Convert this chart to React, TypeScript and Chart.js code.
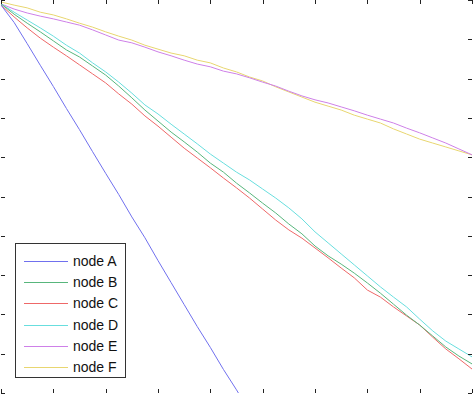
import React, { useEffect, useRef } from "react";
import { Chart, registerables } from "chart.js";

Chart.register(...registerables);

const xValues = [
  0, 0.25, 0.5, 0.75, 1, 1.25, 1.5, 1.75, 2, 2.25, 2.5, 2.75, 3, 3.25, 3.5, 3.75,
  4, 4.25, 4.5, 4.75, 5, 5.25, 5.5, 5.75, 6, 6.25, 6.5, 6.75, 7, 7.25, 7.5, 7.75,
  8, 8.25, 8.5, 8.75, 9,
];

const nodeA = [
  -0.13, -0.57, -1.11, -1.66, -2.2, -2.76, -3.3, -3.86, -4.41, -4.95, -5.52, -6.05,
  -6.63, -7.19, -7.75, -8.31, -8.84, -9.4, -9.92, -10.47,
];
const nodeB = [
  -0.1, -0.36, -0.59, -0.81, -1.04, -1.27, -1.45, -1.68, -1.91, -2.19, -2.49, -2.8,
  -3.08, -3.36, -3.61, -3.87, -4.15, -4.38, -4.66, -4.91, -5.17, -5.42, -5.7, -5.95,
  -6.26, -6.51, -6.72, -6.95, -7.2, -7.46, -7.74, -8.02, -8.27, -8.55, -8.83, -9.06, -9.26,
];
const nodeC = [
  -0.13, -0.43, -0.71, -0.97, -1.2, -1.42, -1.65, -1.88, -2.11, -2.39, -2.65, -2.95,
  -3.21, -3.49, -3.77, -4.02, -4.27, -4.53, -4.78, -5.04, -5.32, -5.6, -5.85, -6.06,
  -6.31, -6.56, -6.82, -7.07, -7.38, -7.56, -7.81, -8.04, -8.27, -8.58, -8.88, -9.13, -9.39,
];
const nodeD = [
  -0.1, -0.31, -0.51, -0.71, -0.92, -1.15, -1.35, -1.6, -1.83, -2.09, -2.37, -2.67,
  -2.9, -3.16, -3.41, -3.66, -3.92, -4.15, -4.38, -4.58, -4.81, -5.04, -5.29, -5.57,
  -5.9, -6.18, -6.46, -6.74, -7.02, -7.3, -7.56, -7.81, -8.12, -8.42, -8.68, -8.88, -9.08,
];
const nodeE = [
  -0.1, -0.23, -0.33, -0.41, -0.48, -0.56, -0.64, -0.76, -0.89, -1.02, -1.09, -1.2,
  -1.32, -1.42, -1.53, -1.63, -1.7, -1.81, -1.88, -1.98, -2.09, -2.19, -2.32, -2.44,
  -2.54, -2.62, -2.72, -2.82, -2.93, -3.03, -3.13, -3.26, -3.38, -3.51, -3.64, -3.79, -3.94,
];
const nodeF = [
  -0.05, -0.13, -0.2, -0.31, -0.38, -0.48, -0.59, -0.69, -0.81, -0.92, -1.02, -1.15,
  -1.25, -1.35, -1.42, -1.53, -1.6, -1.73, -1.83, -1.96, -2.06, -2.21, -2.34, -2.47,
  -2.6, -2.7, -2.8, -2.93, -3.03, -3.13, -3.28, -3.41, -3.54, -3.64, -3.74, -3.84, -3.94,
];

const seriesNames = ["node A", "node B", "node C", "node D", "node E", "node F"];
const seriesValues = [nodeA, nodeB, nodeC, nodeD, nodeE, nodeF];
const seriesColors = [
  "rgb(112,112,238)",
  "rgb(88,182,124)",
  "rgb(238,104,104)",
  "rgb(104,222,222)",
  "rgb(206,128,232)",
  "rgb(232,214,112)",
];

const xTicks = [0, 1, 2, 3, 4, 5, 6, 7, 8, 9];
const yTicks = [0, -1, -2, -3, -4, -5, -6, -7, -8, -9, -10];

const tickPlugin = {
  id: "inwardTicks",
  afterDraw(chart: any) {
    const { ctx, chartArea, scales } = chart;
    const len = 4;
    ctx.save();
    ctx.strokeStyle = "#222";
    ctx.lineWidth = 1;
    ctx.beginPath();
    for (const v of xTicks) {
      const px = Math.round(scales.x.getPixelForValue(v)) + 0.5;
      ctx.moveTo(px, chartArea.top);
      ctx.lineTo(px, chartArea.top + len);
      ctx.moveTo(px, chartArea.bottom);
      ctx.lineTo(px, chartArea.bottom - len);
    }
    for (const v of yTicks) {
      const py = Math.round(scales.y.getPixelForValue(v)) + 0.5;
      ctx.moveTo(chartArea.left, py);
      ctx.lineTo(chartArea.left + len, py);
      ctx.moveTo(chartArea.right, py);
      ctx.lineTo(chartArea.right - len, py);
    }
    ctx.stroke();
    ctx.restore();
  },
};

export default function App() {
  const canvasRef = useRef<HTMLCanvasElement | null>(null);

  useEffect(() => {
    document.body.style.margin = "0";
    const canvas = canvasRef.current;
    if (!canvas) return;
    const datasets = seriesNames.map((name, i) => ({
      label: name,
      data: seriesValues[i].map((y, j) => ({ x: xValues[j], y })),
      borderColor: seriesColors[i],
      backgroundColor: seriesColors[i],
      borderWidth: 1,
      pointRadius: 0,
      tension: 0,
      fill: false,
    }));
    const chart = new Chart(canvas, {
      type: "line",
      data: { datasets },
      options: {
        animation: false,
        responsive: false,
        devicePixelRatio: 1,
        layout: { padding: { left: 1, top: 0, right: 2, bottom: 1 } },
        plugins: { legend: { display: false }, tooltip: { enabled: false } },
        scales: {
          x: { type: "linear", min: 0, max: 9, display: false },
          y: { type: "linear", min: -10, max: 0, display: false },
        },
      },
      plugins: [tickPlugin],
    });
    return () => chart.destroy();
  }, []);

  return (
    <div style={{ position: "relative", width: 474, height: 394, background: "#fff" }}>
      <canvas ref={canvasRef} width={474} height={394} style={{ display: "block" }} />
      <div
        style={{
          position: "absolute",
          left: 15,
          top: 243,
          width: 109,
          height: 133,
          border: "1px solid #333",
          background: "#fff",
          fontFamily: "'Liberation Sans', Arial, sans-serif",
          fontSize: 14,
          color: "#111",
        }}
      >
        <svg
          width={109}
          height={133}
          style={{ position: "absolute", left: 0, top: 0 }}
        >
          {seriesNames.map((name, i) => {
            const y = Math.round(17 + i * 21.2) + 0.5;
            return (
              <line
                key={name}
                x1={8}
                x2={52}
                y1={y}
                y2={y}
                stroke={seriesColors[i]}
                strokeWidth={1.2}
                shapeRendering="crispEdges"
              />
            );
          })}
        </svg>
        {seriesNames.map((name, i) => (
          <span
            key={name}
            style={{
              position: "absolute",
              left: 57,
              top: Math.round(9 + i * 21.2),
              lineHeight: "16px",
              whiteSpace: "nowrap",
            }}
          >
            {name}
          </span>
        ))}
      </div>
    </div>
  );
}
